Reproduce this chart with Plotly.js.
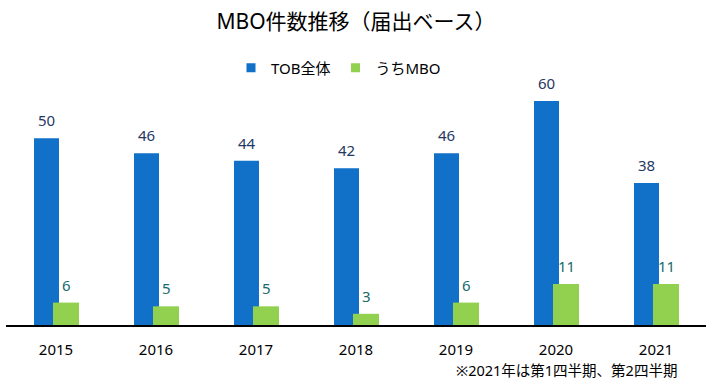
<!DOCTYPE html>
<html><head><meta charset="utf-8">
<script src="https://cdn.plot.ly/plotly-3.0.1.min.js"></script>
<style>html,body{margin:0;padding:0;background:#fff}#c{width:712px;height:384px}</style>
</head><body><div id="c"></div>
<script>
const years = ['2015','2016','2017','2018','2019','2020','2021'];
const tobTotal = [50,46,44,42,46,60,38];
const mboCount = [6,5,5,3,6,11,11];
const seriesNames = ['TOB全体','うちMBO'];
const titleText = 'MBO件数推移（届出ベース）';
const noteText = '※2021年は第1四半期、第2四半期';

const FONT = '"Noto Sans", "Noto Sans CJK JP", sans-serif';
const blue = '#1170C8', green = '#92D050';
const blueText = '#1F3864', greenText = '#176B6B';

const traces = [
  {type:'bar', name:seriesNames[0], x:years, y:tobTotal, width:0.25, offset:-0.22,
   marker:{color:blue}, hoverinfo:'skip', showlegend:false},
  {type:'bar', name:seriesNames[1], x:years, y:mboCount, width:0.26, offset:-0.03,
   marker:{color:green}, hoverinfo:'skip', showlegend:false},
  {type:'scatter', mode:'markers', name:seriesNames[0], x:[null], y:[null],
   marker:{symbol:'square', size:9, color:blue}},
  {type:'scatter', mode:'markers', name:seriesNames[1], x:[null], y:[null],
   marker:{symbol:'square', size:9, color:green}}
];
const ann = [];
years.forEach((yr,i)=>{
  ann.push({xref:'x', yref:'y', x:i-0.095, y:tobTotal[i], text:String(tobTotal[i]), showarrow:false,
    yanchor:'bottom', yshift:6, font:{family:FONT, size:15, color:blueText}});
  ann.push({xref:'x', yref:'y', x:i+0.10, y:mboCount[i], text:String(mboCount[i]), showarrow:false,
    yanchor:'bottom', yshift:6, font:{family:FONT, size:15, color:greenText}});
});
ann.push({xref:'paper', yref:'paper', x:1, xanchor:'right', xshift:-27, y:0, yanchor:'middle', yshift:-45,
  text:noteText, showarrow:false, font:{family:FONT, size:14.5, color:'#000'}});

const layout = {
  width:712, height:384,
  margin:{l:6, r:6, t:80, b:59},
  paper_bgcolor:'#fff', plot_bgcolor:'#fff',
  barmode:'overlay',
  title:{text:titleText, x:0.5, xanchor:'center', y:1-22/384, yanchor:'middle',
    font:{family:FONT, size:21, color:'#000'}},
  showlegend:true,
  legend:{orientation:'h', x:0.475, xanchor:'center', y:1-68/384, yanchor:'middle', yref:'container',
    font:{family:FONT, size:15, color:'#000'}, itemwidth:30, traceorder:'normal', tracegroupgap:0},
  xaxis:{type:'category', showgrid:false, showline:true, linecolor:'#000', linewidth:1.5,
    ticks:'', tickfont:{family:FONT, size:15, color:'#000'}, ticklabelstandoff:10, range:[-0.5,6.5]},
  yaxis:{range:[0,64.4], visible:false, showgrid:false, zeroline:false, fixedrange:true},
  annotations:ann
};
Plotly.newPlot('c', traces, layout, {displayModeBar:false, staticPlot:true});
</script></body></html>
